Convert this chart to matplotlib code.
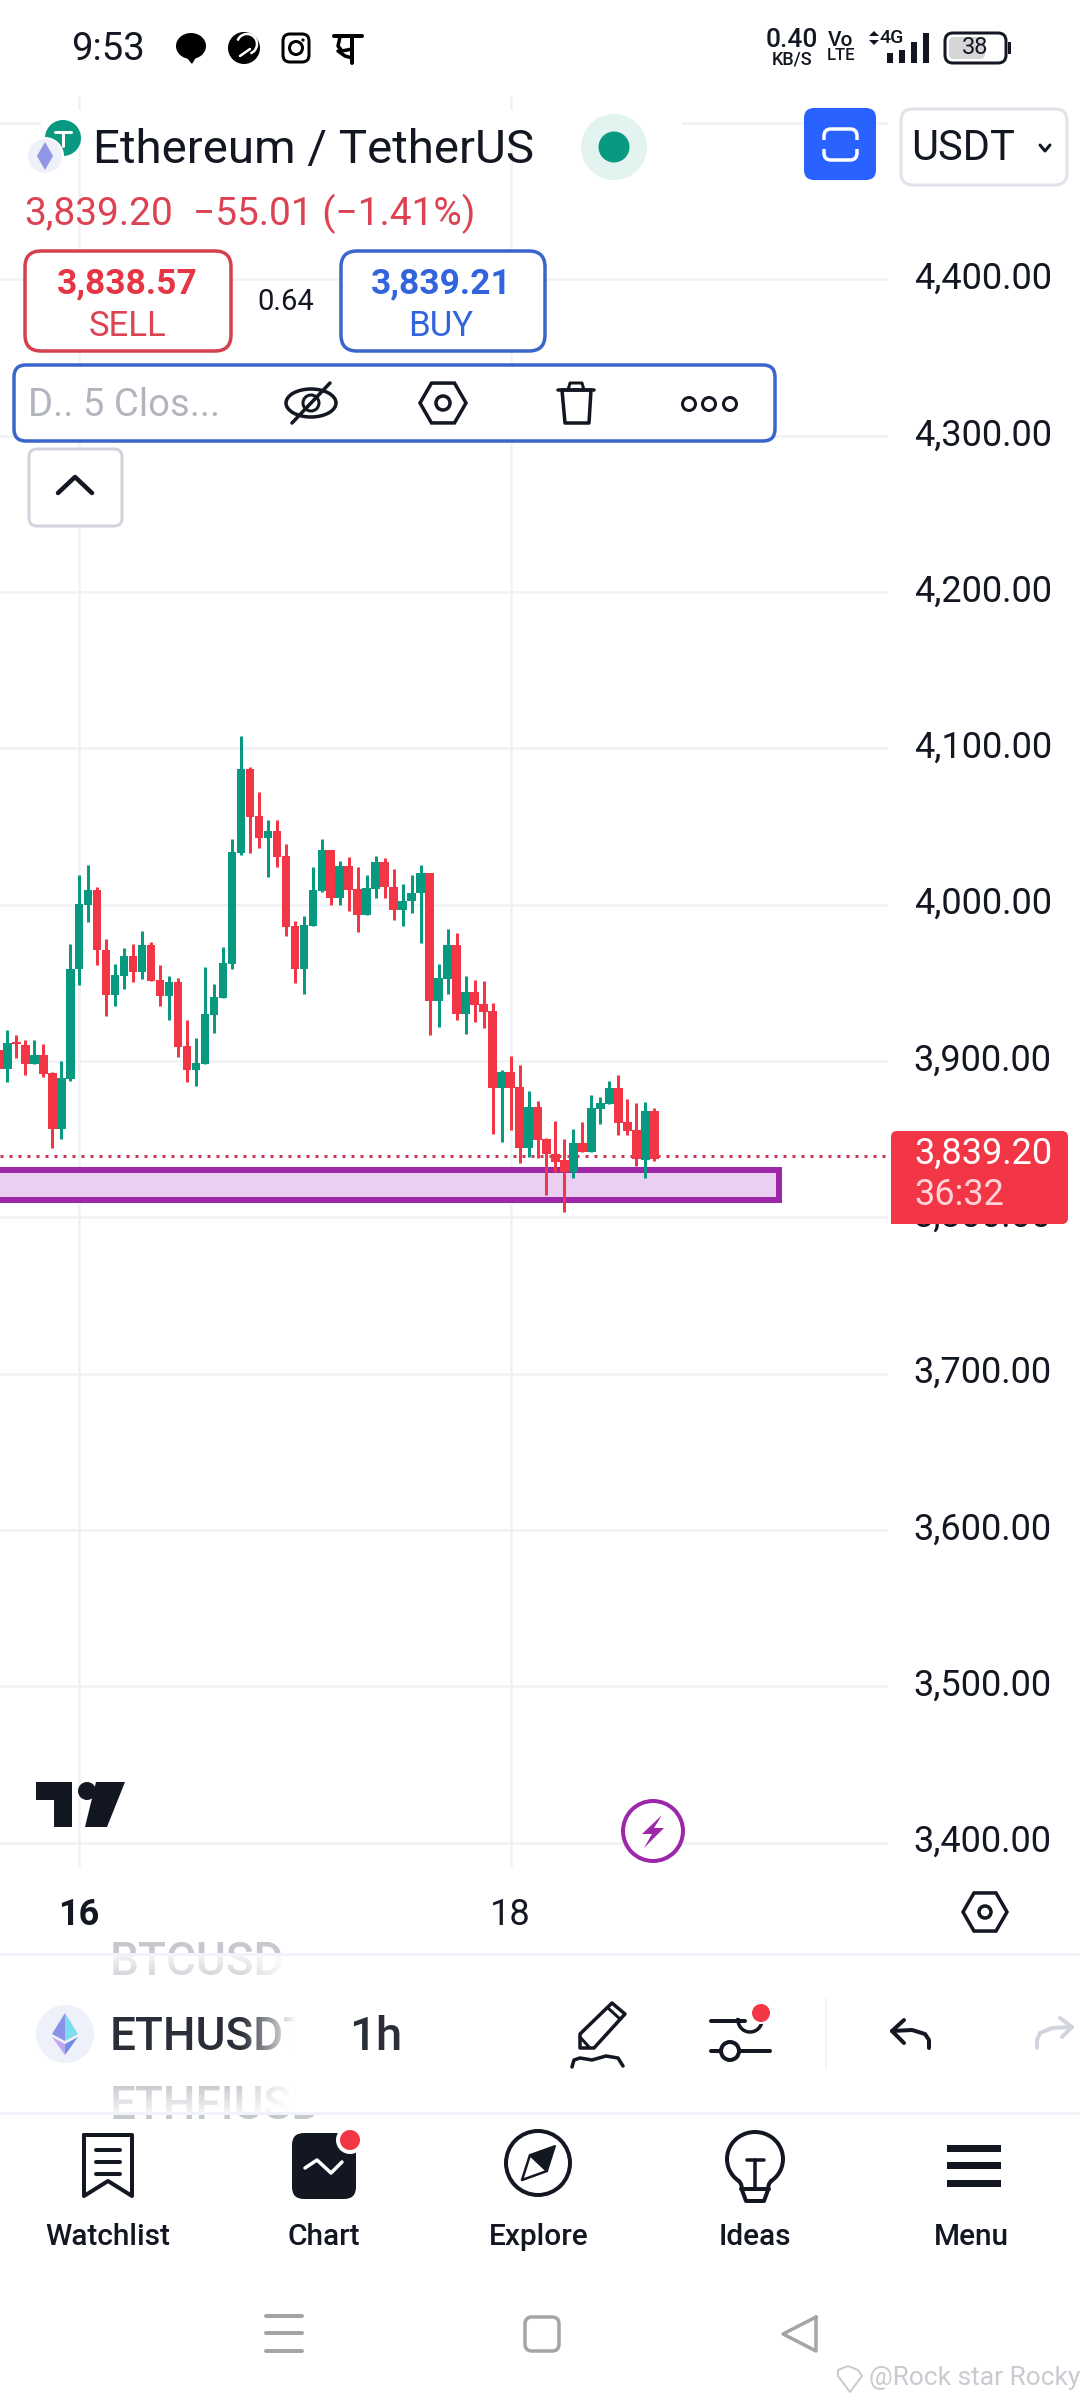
import numpy as np
import matplotlib
matplotlib.use("Agg")
import matplotlib.pyplot as plt
from matplotlib.patches import Circle, Ellipse, FancyBboxPatch, Polygon, Rectangle, RegularPolygon, Arc
from matplotlib.transforms import ScaledTranslation

plt.rcParams['font.family'] = ['Roboto', 'DejaVu Sans']

# hourly candles, hour 0 is the "16" tick
hours = np.arange(-9, 65)
opens = [3907.0, 3894.7, 3912.4, 3910.2, 3898.3, 3903.6, 3892.1, 3856.3, 3888.3, 3958.7,
         3999.8, 4009.4, 3970.8, 3942.2, 3954.4, 3967.2, 3956.9, 3974.2, 3951.8, 3941.6,
         3950.5, 3909.6, 3894.2, 3898.1, 3929.4, 3940.1, 3962.1, 4032.9, 4086.8, 4056.8,
         4042.7, 4047.2, 4031.2, 3986.4, 3958.7, 3986.4, 4008.8, 4035.0, 4004.3, 4024.8,
         4010.1, 3993.4, 4010.0, 4027.3, 4011.3, 3996.6, 4002.4, 4007.5, 4020.3, 3938.4,
         3952.5, 3974.2, 3930.1, 3944.1, 3936.5, 3932.0, 3882.7, 3892.9, 3883.3, 3844.3,
         3870.5, 3850.1, 3840.5, 3836.6, 3829.0, 3847.5, 3841.8, 3869.3, 3872.5, 3882.7,
         3860.9, 3855.8, 3836.6, 3868.0]
closes = [3894.7, 3911.3, 3910.7, 3898.3, 3903.6, 3891.7, 3856.3, 3888.9, 3958.9, 4000.5,
          4009.4, 3970.8, 3942.2, 3955.0, 3967.2, 3956.9, 3974.2, 3951.4, 3941.6, 3950.5,
          3909.0, 3894.2, 3898.5, 3930.1, 3940.7, 3962.5, 4033.7, 4086.8, 4056.1, 4042.7,
          4047.2, 4030.5, 3985.7, 3958.7, 3987.0, 4009.4, 4035.0, 4004.3, 4024.8, 4009.4,
          3993.4, 4010.5, 4027.3, 4011.3, 3996.6, 4002.4, 4007.5, 4020.3, 3938.4, 3953.1,
          3974.2, 3930.1, 3944.1, 3935.8, 3931.3, 3882.7, 3892.9, 3882.7, 3844.3, 3870.5,
          3849.4, 3840.5, 3835.4, 3829.0, 3847.5, 3841.8, 3869.9, 3873.1, 3882.7, 3860.3,
          3855.2, 3837.3, 3868.0, 3837.3]
highs = [3913.0, 3919.8, 3916.6, 3913.4, 3913.4, 3910.9, 3892.7, 3900.0, 3974.9, 4019.0,
         4025.4, 4011.1, 3978.1, 3962.1, 3972.3, 3974.9, 3983.2, 3976.1, 3961.4, 3954.4,
         3953.1, 3926.2, 3914.7, 3960.1, 3949.3, 3972.9, 4042.1, 4108.0, 4088.1, 4072.1,
         4054.2, 4054.2, 4038.9, 3989.6, 3992.8, 4024.1, 4042.1, 4035.0, 4028.0, 4030.5,
         4024.1, 4019.0, 4031.2, 4029.9, 4022.8, 4013.2, 4019.0, 4025.4, 4020.3, 3962.1,
         3984.4, 3981.9, 3954.4, 3951.8, 3951.2, 3937.1, 3894.2, 3903.2, 3897.4, 3880.8,
         3874.4, 3850.7, 3861.6, 3850.1, 3856.5, 3860.9, 3878.2, 3876.9, 3887.2, 3891.0,
         3875.7, 3873.1, 3873.7, 3869.9]
lows = [3885.0, 3886.8, 3902.1, 3891.0, 3898.3, 3890.0, 3844.5, 3850.1, 3887.4, 3948.6,
        3989.2, 3961.4, 3928.8, 3935.2, 3946.1, 3950.5, 3952.5, 3951.4, 3935.2, 3926.2,
        3902.6, 3886.6, 3884.0, 3898.1, 3917.9, 3940.1, 3958.9, 4031.8, 4033.1, 4036.3,
        4017.9, 4024.1, 3980.0, 3949.9, 3942.9, 3986.4, 4008.1, 3999.8, 3999.8, 3996.0,
        3982.5, 3993.4, 4004.3, 4004.3, 3990.2, 3986.4, 3994.7, 3975.5, 3916.6, 3921.7,
        3942.9, 3926.2, 3917.3, 3924.9, 3921.1, 3853.3, 3848.2, 3855.8, 3834.7, 3838.6,
        3837.9, 3814.2, 3829.0, 3803.4, 3825.1, 3841.8, 3841.8, 3859.7, 3872.5, 3852.6,
        3852.6, 3832.8, 3825.1, 3836.0]

price_ticks = [3400, 3500, 3600, 3700, 3800, 3900, 4000, 4100, 4200, 4300, 4400, 4500]
price_labels = ['3,400.00', '3,500.00', '3,600.00', '3,700.00', '3,800.00', '3,900.00',
                '4,000.00', '4,100.00', '4,200.00', '4,300.00', '4,400.00', '']
date_ticks = [0, 48]
date_labels = ['16', '18']
last_price = 3839.2
zone_low = 3811.0
zone_high = 3830.3
zone_end = 77.9

GREEN = '#089981'
RED = '#F23645'
INK = '#131722'
BLUE = '#3A66CC'
PURPLE = '#9C27A8'
GRID = '#F1F2F5'
W, H = 1080, 2400


def px(n):
    return n * 72 / 100


fig = plt.figure(figsize=(W / 100, H / 100), dpi=100, facecolor='white')

# chart
ax = fig.add_axes([0, (H - 1868) / H, 888 / W, (1868 - 96) / H])
ax.set_xlim(-8.81, 90.0)
ax.set_ylim(3383.7, 4517.4)
for s in ax.spines.values():
    s.set_visible(False)
ax.yaxis.tick_right()
ax.set_yticks(price_ticks)
ax.set_yticklabels(price_labels)
ax.set_xticks(date_ticks)
ax.set_xticklabels(date_labels)
ax.tick_params(axis='y', length=0, pad=18.5, labelsize=26, labelcolor=INK)
ax.tick_params(axis='x', length=0, pad=21, labelsize=26, labelcolor=INK)
ax.get_xticklabels()[0].set_fontweight('bold')
up = ScaledTranslation(0, 4.5 / 100, fig.dpi_scale_trans)
for lab in ax.get_yticklabels():
    lab.set_transform(lab.get_transform() + up)
ax.grid(True, color=GRID, lw=px(2.5))
ax.set_axisbelow(True)

ax.add_patch(Rectangle((-20, zone_low), 20 + zone_end, zone_high - zone_low, fc='#EACFF0',
                       ec=PURPLE, lw=px(6), zorder=2))
ax.axhline(last_price, color='#C83A55', lw=px(3), ls=(0, (1, 2)), zorder=2)

colors = [GREEN if c >= o else RED for o, c in zip(opens, closes)]
ax.vlines(hours, lows, highs, colors=colors, lw=px(3), zorder=3)
ax.bar(hours, np.array(closes) - np.array(opens), bottom=opens, width=0.96, color=colors, zorder=4)

# everything around the chart is in screen pixels
ui = fig.add_axes([0, 0, 1, 1], zorder=5)
ui.patch.set_alpha(0)
ui.axis('off')


def txt(x, y, s, size, color=INK, ha='left', weight='normal', **kw):
    return ui.text(x, y, s, fontsize=size, color=color, ha=ha, va='center', fontweight=weight, zorder=10, **kw)


def box(x0, y0, x1, y1, r, ec='none', fc='white', lw=3, z=6):
    ui.add_patch(FancyBboxPatch((x0, y0), x1 - x0, y1 - y0, boxstyle=f'round,pad=0,rounding_size={r}',
                                ec=ec, fc=fc, lw=px(lw), zorder=z))


def line(xs, ys, color=INK, lw=3.5, z=8):
    ui.plot(xs, ys, color=color, lw=px(lw), zorder=z, solid_capstyle='round', solid_joinstyle='round')


def circ(x, y, r, fc='none', ec='none', lw=3.5, z=8):
    ui.add_patch(Circle((x, y), r, fc=fc, ec=ec, lw=px(lw), zorder=z))


def poly(pts, fc=INK, ec='none', lw=0, z=8):
    ui.add_patch(Polygon(pts, closed=True, fc=fc, ec=ec, lw=px(lw), zorder=z, joinstyle='round'))


def hexagon(x, y, r, lw=3.5, hole=7):
    ui.add_patch(RegularPolygon((x, y), 6, radius=r, orientation=np.pi / 6, fc='white', ec=INK, lw=px(lw), zorder=8))
    circ(x, y, hole, lw=lw, ec=INK)


def eth(x, y, s):
    # small coloured diamond of the ETH coin
    poly([(x, y - 21 * s), (x - 13 * s, y), (x, y + 7 * s)], fc='#8A92E8')
    poly([(x, y - 21 * s), (x + 13 * s, y), (x, y + 7 * s)], fc='#7DDCEE')
    poly([(x, y + 10 * s), (x - 13 * s, y + 3 * s), (x, y + 21 * s)], fc='#C3A6F0')
    poly([(x, y + 10 * s), (x + 13 * s, y + 3 * s), (x, y + 21 * s)], fc='#6F8CE8')


# status bar
txt(71, 50, '9:53', 27.5)
ui.add_patch(Ellipse((191, 46), 30, 26, fc='black', zorder=8))
poly([(182, 52), (198, 54), (192, 64)], fc='black')
circ(244, 48, 16, fc='black')
ui.add_patch(Arc((247, 44), 20, 20, theta1=200, theta2=70, color='white', lw=px(2.5), zorder=9))
line([240, 250], [56, 49], color='white', lw=2.5, z=9)
box(283, 34, 309, 62, 7, ec='black', fc='white', lw=3, z=8)
circ(296, 48, 6.5, ec='black', lw=3, z=9)
circ(303, 40, 1.6, fc='black', z=9)
# Devanagari status icon, no installed font has it
line([334, 362], [36, 36], color='black', lw=4)
line([352, 352], [36, 63], color='black', lw=4)
line([340, 338, 342, 352], [37, 46, 51, 49], color='black', lw=3.5)
line([338, 345, 352], [51, 56, 58], color='black', lw=3.5)
txt(792, 40, '0.40', 19, ha='center', weight='medium')
txt(792, 59, 'KB/S', 13, ha='center', weight='medium')
txt(841, 41, 'Vo', 15, ha='center', weight='medium')
txt(841, 56, 'LTE', 12, ha='center', weight='medium')
txt(892, 38, '4G', 14, ha='center', weight='medium')
poly([(869, 36), (879, 36), (874, 31)], fc=INK)
poly([(869, 40), (879, 40), (874, 45)], fc=INK)
for bx, top in zip([887, 899, 911, 923], [53, 50, 42, 33]):
    ui.add_patch(Rectangle((bx, top), 6, 63 - top, fc=INK, zorder=8))
box(945, 33, 1006, 63, 8, ec=INK, fc='white', lw=3)
box(949, 37, 985, 59, 5, fc='#D6D6D6', z=7)
ui.add_patch(Rectangle((1008, 42), 2.5, 12, fc=INK, zorder=8))
txt(975, 48, '38', 17, ha='center')

# header row
ui.add_patch(Rectangle((41, 110), 641, 26, fc='white', zorder=5))
circ(63, 138, 18, fc=GREEN)
line([55, 71], [132, 132], color='white', lw=3, z=9)
line([63, 63], [132, 146], color='white', lw=3, z=9)
circ(45, 156, 18, fc='#EEF0FA', ec='white', lw=2, z=9)
ui.add_patch(Polygon([(45, 142), (37, 156), (45, 170), (53, 156)], fc='#8F96E6', zorder=10))
txt(93, 150, 'Ethereum / TetherUS', 34.2)
circ(614, 147, 33, fc='#E3F3F0')
circ(614, 147, 15.5, fc=GREEN, z=9)
box(804, 108, 876, 180, 10, fc='#2962FF')
box(824, 129, 857, 160, 7, ec='white', fc='#2962FF', lw=3.5, z=7)
ui.add_patch(Rectangle((820, 140), 40, 9, fc='#2962FF', zorder=8))
box(901, 109, 1067, 185, 12, ec='#E0E3EB', lw=3)
txt(911, 149, 'USDT', 30)
line([1040, 1045, 1050], [145, 151, 145], lw=3)

txt(24, 214, '3,839.20', 28, color='#DC4352')
txt(193, 214, '\u221255.01 (\u22121.41%)', 28, color='#DC4352')

box(25, 251, 231, 351, 16, ec='#D5404F', lw=3.5)
txt(127, 284, '3,838.57', 25.5, color='#E63645', ha='center', weight='bold')
txt(127, 326, 'SELL', 25, color='#DC4352', ha='center')
txt(286, 302, '0.64', 21, ha='center')
box(341, 251, 545, 351, 16, ec=BLUE, lw=3.5)
txt(441, 284, '3,839.21', 25.5, color='#3265DC', ha='center', weight='bold')
txt(441, 326, 'BUY', 25, color='#3265DC', ha='center')

# drawing toolbar
box(14, 365, 775, 441, 12, ec=BLUE, lw=3.5)
txt(28, 406, 'D.. 5 Clos...', 27.5, color='#B2B5BE')
ui.add_patch(Ellipse((311, 403), 50, 28, fc='none', ec=INK, lw=px(3.5), zorder=8))
circ(311, 403, 8, ec=INK, lw=3)
line([292, 330], [423, 383], lw=3.5)
hexagon(443, 403, 23)
line([558, 594], [390, 390])
line([568, 570, 582, 584], [390, 383, 383, 390], lw=3)
line([562, 565, 589, 591, 562], [390, 423, 423, 390, 390], lw=3.5)
circ(689, 404, 6.5, ec=INK, lw=3)
circ(709, 404, 6.5, ec=INK, lw=3)
circ(730, 404, 6.5, ec=INK, lw=3)
box(29, 449, 122, 526, 8, ec='#D1D4DC', lw=3)
line([58, 75, 92], [493, 477, 493], lw=4.5)

# price tag on the axis
box(891, 1131, 1068, 1224, 6, fc=RED)
ui.add_patch(Rectangle((891, 1200), 10, 24, fc=RED, zorder=6))
txt(914, 1154, '3,839.20', 26, color='white')
txt(914, 1195, '36:32', 26, color='#FFD3D8')

# logo and lightning button
poly([(36, 1782), (72, 1782), (72, 1827), (54, 1827), (54, 1800), (36, 1800)], fc=INK)
circ(87, 1791, 9, fc=INK)
poly([(96, 1782), (125, 1782), (107, 1827), (85, 1827)], fc=INK)
circ(653, 1831, 30, fc='white', ec=PURPLE, lw=4)
poly([(662, 1815), (642, 1834), (652, 1834), (644, 1848), (664, 1828), (654, 1828)], fc=PURPLE)
hexagon(985, 1912, 22, hole=6)

# symbol strip
sep1 = Rectangle((0, 1954), W, 159, transform=ui.transData)
for sy, s in [(1962, 'BTCUSD'), (2106, 'ETHFIUSD')]:
    t = txt(110, sy, s, 33, color='#C6C8CE', weight='medium')
    t.set_clip_path(sep1)
circ(65, 2034, 29, fc='#EFF1FA')
eth(65, 2034, 1)
txt(110, 2037, 'ETHUSDT', 33, color='#2A2E39', weight='medium')
grad = np.ones((1, 40, 4))
grad[..., 3] = np.linspace(0, 1, 40)
ui.imshow(grad, extent=(240, 296, 2115, 1955), aspect='auto', zorder=11)
ui.add_patch(Rectangle((296, 1955), 50, 158, fc='white', zorder=11))
# the rows above and below fade out towards the edges of the strip
fade = np.ones((30, 1, 4))
fade[..., 3] = np.linspace(0.8, 0, 30)[:, None]
ui.imshow(fade, extent=(100, 296, 1985, 1955), aspect='auto', zorder=10.5)
ui.imshow(fade[::-1], extent=(100, 296, 2113, 2083), aspect='auto', zorder=10.5)
txt(349, 2037, '1h', 34, color='#2A2E39', weight='medium').set_zorder(12)

line([0, W], [1954, 1954], color='#F0F3FA', lw=3, z=12)
line([0, W], [2113, 2113], color='#F0F3FA', lw=3, z=12)
line([826, 826], [1999, 2068], color='#F0F3FA', lw=2)

# pencil, sliders, undo, redo
poly([(580, 2048), (580, 2034), (612, 2003), (625, 2014), (594, 2048)], fc='white', ec=INK, lw=3.5)
line([608, 620], [2008, 2019], lw=3)
line([580, 589], [2037, 2047], lw=3)
line([572, 574, 580, 592, 606, 618, 623], [2067, 2060, 2058, 2060, 2056, 2058, 2066], lw=3.5)
line([711, 745], [2021, 2021], lw=4)
ui.add_patch(Arc((750, 2020), 24, 24, theta1=0, theta2=190, color=INK, lw=px(3.5), zorder=8))
circ(730, 2051, 9, ec=INK, lw=4)
line([711, 721], [2051, 2051], lw=4)
line([739, 770], [2051, 2051], lw=4)
circ(761, 2013, 11, fc='white', z=9)
circ(761, 2013, 9, fc=RED, z=10)
line([904, 892, 904], [2020, 2031, 2043], lw=4)
line([892, 912, 925, 929, 929], [2031, 2030, 2034, 2040, 2048], lw=4)
line([1060, 1072, 1062], [2018, 2027, 2037], color='#D1D4DC', lw=4)
line([1072, 1052, 1040, 1037, 1037], [2027, 2028, 2033, 2040, 2048], color='#D1D4DC', lw=4)

# bottom navigation
line([84, 132, 132, 108, 84, 84], [2135, 2135, 2196, 2181, 2196, 2135], lw=4)
for ly in [2150, 2162, 2174]:
    line([96, 120], [ly, ly], lw=4)
box(292, 2133, 356, 2199, 12, fc=INK, z=7)
line([305, 317, 331, 342], [2168, 2160, 2173, 2162], color='white', lw=3.5)
circ(350, 2140, 14, fc='white', z=9)
circ(350, 2140, 10, fc=RED, z=10)
circ(538, 2163, 32, ec=INK, lw=4)
poly([(555, 2146), (547, 2171), (530, 2155)], fc=INK, ec=INK, lw=2)
poly([(522, 2180), (547, 2171), (530, 2155)], fc='white', ec=INK, lw=2.5)
ui.add_patch(Arc((755, 2159), 56, 54, theta1=125, theta2=55, color=INK, lw=px(4), zorder=8))
line([739, 741, 742], [2181, 2184, 2188], lw=4)
line([771, 769, 768], [2181, 2184, 2188], lw=4)
line([741, 769], [2189, 2189], lw=4)
line([742, 746, 764, 768], [2190, 2201, 2201, 2190], lw=4)
line([747, 764], [2160, 2160], lw=3.5)
line([755, 755], [2160, 2187], lw=3.5)
for ly in [2148.5, 2165.5, 2183.5]:
    ui.add_patch(Rectangle((947, ly - 3.5), 54, 7, fc=INK, zorder=8))
for nx, s in [(108, 'Watchlist'), (324, 'Chart'), (539, 'Explore'), (755, 'Ideas'), (971, 'Menu')]:
    txt(nx, 2237, s, 21.5, ha='center', weight='medium')

# android keys
for ly in [2316, 2333, 2351]:
    line([266, 302], [ly, ly], color='#A5A5A5', lw=4)
box(525, 2317, 559, 2351, 7, ec='#A5A5A5', fc='white', lw=3.5)
line([816, 816, 783, 816], [2317, 2351, 2334, 2317], color='#A5A5A5', lw=3.5)

# watermark
txt(869, 2378, '@Rock star Rocky', 19, color='#C9CBD0')
poly([(838, 2370), (848, 2366), (858, 2370), (862, 2376), (850, 2392), (838, 2376)], fc='none', ec='#C9CBD0', lw=2)

ui.set_xlim(0, W)
ui.set_ylim(H, 0)

fig.savefig('out.png', dpi=100)
